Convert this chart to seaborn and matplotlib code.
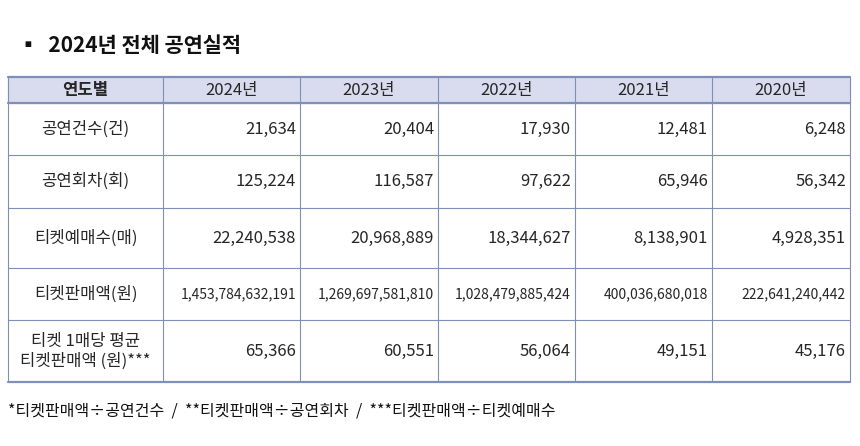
import matplotlib.pyplot as plt
import seaborn as sns

sns.set_theme(style="white")
plt.rcParams["font.family"] = ["Noto Sans CJK KR", "Noto Sans CJK JP", "Noto Sans CJK SC", "DejaVu Sans"]

years = ["2024년", "2023년", "2022년", "2021년", "2020년"]
row_labels = ["공연건수(건)", "공연회차(회)", "티켓예매수(매)", "티켓판매액(원)", "티켓 1매당 평균\n티켓판매액 (원)***"]
shows = ["21,634", "20,404", "17,930", "12,481", "6,248"]
runs = ["125,224", "116,587", "97,622", "65,946", "56,342"]
tickets = ["22,240,538", "20,968,889", "18,344,627", "8,138,901", "4,928,351"]
sales = ["1,453,784,632,191", "1,269,697,581,810", "1,028,479,885,424", "400,036,680,018", "222,641,240,442"]
avg_price = ["65,366", "60,551", "56,064", "49,151", "45,176"]
values = [shows, runs, tickets, sales, avg_price]

fig = plt.figure(figsize=(8.6, 4.46), dpi=100)
ax = fig.add_axes([0, 0, 1, 1])
ax.set_xlim(0, 860)
ax.set_ylim(446, 0)
ax.axis("off")

col_x = [8, 163, 300, 438, 575, 712, 850]
row_y = [77, 103, 155, 208, 268, 320, 382]
line_c = "#7f8fb8"

ax.text(18, 45, "▪  2024년 전체 공연실적", fontsize=15, fontweight="bold", va="center", color="#111")

# header background
ax.fill_between([col_x[0], col_x[-1]], row_y[0], row_y[1], color="#d9dcef")
for y in row_y:
    lw = 1.6 if y in (row_y[0], row_y[1], row_y[-1]) else 0.8
    ax.plot([col_x[0], col_x[-1]], [y, y], color=line_c, lw=lw)
for x in col_x:
    ax.plot([x, x], [row_y[0], row_y[-1]], color=line_c, lw=0.8)

ax.text((col_x[0] + col_x[1]) / 2, (row_y[0] + row_y[1]) / 2, "연도별", fontsize=12, fontweight="bold", ha="center", va="center")
for j, yr in enumerate(years):
    ax.text((col_x[j + 1] + col_x[j + 2]) / 2, (row_y[0] + row_y[1]) / 2, yr, fontsize=12, ha="center", va="center")

for i, lab in enumerate(row_labels):
    cy = (row_y[i + 1] + row_y[i + 2]) / 2
    ax.text((col_x[0] + col_x[1]) / 2, cy, lab, fontsize=12, ha="center", va="center", linespacing=1.2)
    for j, v in enumerate(values[i]):
        fs = 10 if i == 3 else 12
        ax.text(col_x[j + 2] - 4, cy, v, fontsize=fs, ha="right", va="center")

ax.text(8, 411, "*티켓판매액÷공연건수  /  **티켓판매액÷공연회차  /  ***티켓판매액÷티켓예매수",
        fontsize=11.5, va="center", color="#111")

fig.savefig("out.png", dpi=100)
